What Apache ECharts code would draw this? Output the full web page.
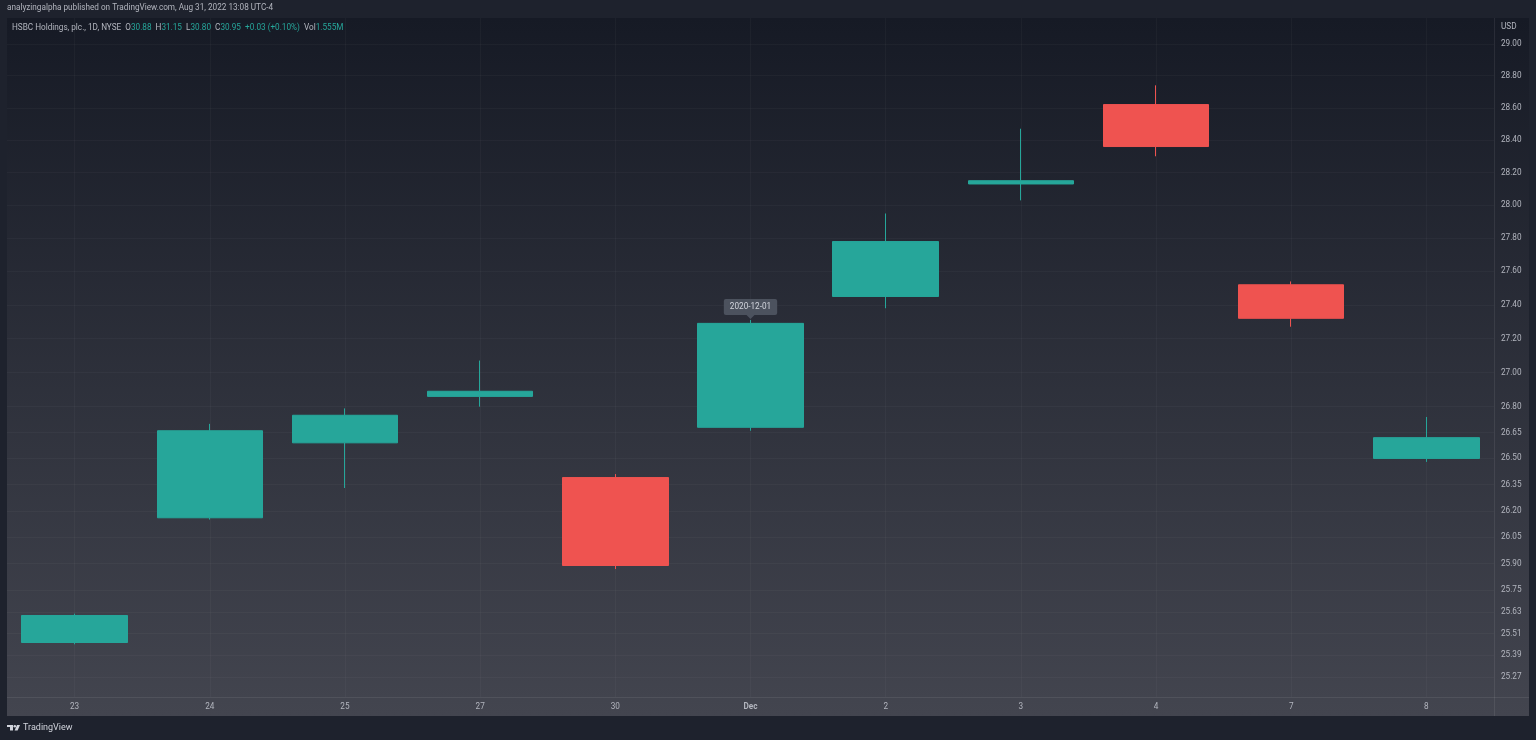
<!DOCTYPE html>
<html>
<head>
<meta charset="utf-8">
<script src="https://cdn.jsdelivr.net/npm/echarts@6/dist/echarts.min.js"></script>
<style>
html,body{margin:0;padding:0;background:#1e222d;}
#chart{width:1536px;height:740px;}
</style>
</head>
<body>
<div id="chart"></div>
<script>
// ---- data ----
const categories = ['23', '24', '25', '27', '30', 'Dec', '2', '3', '4', '7', '8'];
const opens  = [25.46, 26.16, 26.59, 26.86, 26.39, 26.68, 27.45, 28.13, 28.62, 27.52, 26.50];
const closes = [25.61, 26.66, 26.75, 26.89, 25.89, 27.29, 27.78, 28.15, 28.36, 27.32, 26.62];
const lows   = [25.45, 26.15, 26.33, 26.80, 25.87, 26.66, 27.38, 28.03, 28.30, 27.27, 26.48];
const highs  = [25.62, 26.70, 26.79, 27.07, 26.41, 27.31, 27.95, 28.47, 28.74, 27.54, 26.74];
const priceTicks = [25.27, 25.39, 25.51, 25.63, 25.75, 25.90, 26.05, 26.20, 26.35, 26.50, 26.65, 26.80,
                    27.00, 27.20, 27.40, 27.60, 27.80, 28.00, 28.20, 28.40, 28.60, 28.80, 29.00];
const markedCategory = 'Dec';
const markedDate = '2020-12-01';
const publishedText = 'analyzingalpha published on TradingView.com, Aug 31, 2022 13:08 UTC-4';
const symbolText = 'HSBC Holdings, plc., 1D, NYSE';
const ohlcLabels = ['O', 'H', 'L', 'C'];
const ohlcValues = ['30.88', '31.15', '30.80', '30.95'];
const changeText = '+0.03 (+0.10%)';
const volText = '1.555M';

// ---- build ----
const candleData = categories.map((c, i) => [opens[i], closes[i], lows[i], highs[i]]);
const UP = '#26a69a', DOWN = '#ef5350';
const TXT = '#b2b5be';
const FONT = 'Roboto, "Noto Sans", sans-serif';
const FS = 8.2;

let legendRich = '{g|' + symbolText + '}  ';
ohlcLabels.forEach((l, i) => { legendRich += '{g|' + l + '}{v|' + ohlcValues[i] + '}  '; });
legendRich += '{v|' + changeText + '}  {g|Vol}{v|' + volText + '}';

const chart = echarts.init(document.getElementById('chart'));
chart.setOption({
  animation: false,
  backgroundColor: '#1e222d',
  textStyle: { fontFamily: FONT },
  grid: { left: 7, right: 42, top: 18, bottom: 43 },
  graphic: [
    { type: 'rect', z: -10, silent: true,
      shape: { x: 7, y: 18, width: 1522, height: 698 },
      style: { fill: new echarts.graphic.LinearGradient(0, 0, 0, 1, [
        { offset: 0, color: '#161a25' }, { offset: 1, color: '#43454f' }]) } },
    { type: 'line', z: 5, silent: true, shape: { x1: 1494.5, y1: 18, x2: 1494.5, y2: 716 },
      style: { stroke: 'rgba(255,255,255,0.08)', lineWidth: 1 } },
    { type: 'line', z: 5, silent: true, shape: { x1: 7, y1: 697.5, x2: 1529, y2: 697.5 },
      style: { stroke: 'rgba(255,255,255,0.08)', lineWidth: 1 } },
    { type: 'text', z: 10, x: 7, y: 8, silent: true,
      style: { text: publishedText, fill: TXT, font: FS + 'px ' + FONT, verticalAlign: 'middle' } },
    { type: 'text', z: 10, x: 12, y: 28, silent: true,
      style: { text: legendRich, fill: TXT, font: FS + 'px ' + FONT, verticalAlign: 'middle',
        rich: { g: { fill: TXT, fontSize: FS, fontFamily: FONT }, v: { fill: UP, fontSize: FS, fontFamily: FONT } } } },
    { type: 'text', z: 10, x: 1501, y: 27, silent: true,
      style: { text: 'USD', fill: TXT, font: FS + 'px ' + FONT, verticalAlign: 'middle' } },
    // TradingView footer logo
    { type: 'rect', z: 10, silent: true, shape: { x: 7, y: 725, width: 6, height: 2 }, style: { fill: '#d1d4dc' } },
    { type: 'rect', z: 10, silent: true, shape: { x: 10, y: 725, width: 3, height: 5.5 }, style: { fill: '#d1d4dc' } },
    { type: 'circle', z: 10, silent: true, shape: { cx: 14.8, cy: 726.2, r: 1.3 }, style: { fill: '#d1d4dc' } },
    { type: 'polygon', z: 10, silent: true, shape: { points: [[17, 725], [20, 725], [17.6, 730.5], [14.6, 730.5]] }, style: { fill: '#d1d4dc' } },
    { type: 'text', z: 10, x: 23, y: 728, silent: true,
      style: { text: 'TradingView', fill: '#d1d4dc', font: '9px ' + FONT, verticalAlign: 'middle' } }
  ],
  xAxis: {
    type: 'category',
    data: categories,
    boundaryGap: true,
    axisLine: { show: false },
    axisTick: { show: false, alignWithLabel: true },
    axisLabel: {
      color: TXT, fontSize: FS, margin: 6, interval: 0,
      formatter: v => v === markedCategory ? '{b|' + v + '}' : v,
      rich: { b: { color: TXT, fontSize: FS, fontWeight: 'bold' } }
    },
    splitLine: { show: true, interval: 0, alignWithLabel: true,
      lineStyle: { color: 'rgba(255,255,255,0.03)' } }
  },
  yAxis: {
    type: 'log',
    logBase: 10,
    position: 'right',
    min: 25.16,
    max: 29.164,
    axisLine: { show: false },
    axisTick: { show: false, customValues: priceTicks },
    axisLabel: { color: TXT, fontSize: FS, margin: 7, customValues: priceTicks,
      formatter: v => Number(v).toFixed(2) },
    splitLine: { show: true, lineStyle: { color: 'rgba(255,255,255,0.03)' } }
  },
  series: [{
    type: 'candlestick',
    data: candleData,
    barWidth: 106,
    itemStyle: { color: UP, color0: DOWN, borderColor: UP, borderColor0: DOWN, borderWidth: 1 },
    markPoint: {
      silent: true,
      symbol: 'path://M0,0L10,0L5,5Z',
      symbolSize: [8, 4],
      symbolOffset: [0, -3],
      itemStyle: { color: '#4c525e' },
      label: { show: true, position: 'top', distance: 0, formatter: markedDate,
        backgroundColor: '#4c525e', color: '#d1d4dc', fontSize: FS, padding: [4, 6], borderRadius: 2 },
      data: [{ coord: [markedCategory, highs[categories.indexOf(markedCategory)]] }]
    }
  }]
});
</script>
</body>
</html>
